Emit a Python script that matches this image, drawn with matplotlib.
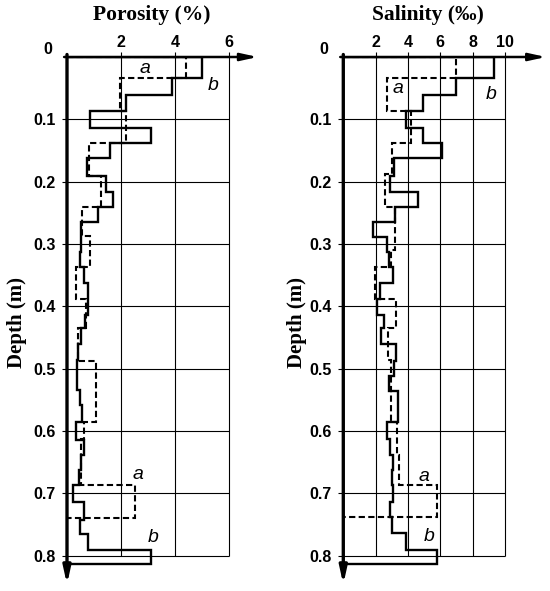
import numpy as np
import matplotlib.pyplot as plt

plt.rcParams['font.family'] = ['Liberation Sans', 'DejaVu Sans']

# layer boundaries (m) and values
por_b_edges = [0, 0.034, 0.061, 0.086, 0.114, 0.138, 0.162, 0.191, 0.216, 0.240, 0.264,
               0.288, 0.312, 0.337, 0.362, 0.386, 0.413, 0.434, 0.461, 0.486, 0.51, 0.534,
               0.558, 0.586, 0.614, 0.638, 0.662, 0.687, 0.714, 0.742, 0.765, 0.79, 0.813]
por_b = [5.0, 3.9, 2.2, 0.86, 3.1, 1.6, 0.75, 1.45, 1.72, 1.13, 0.52, 0.5, 0.48, 0.62, 0.76,
         0.78, 0.68, 0.53, 0.40, 0.38, 0.38, 0.47, 0.55, 0.35, 0.62, 0.5, 0.45, 0.22, 0.62,
         0.47, 0.77, 3.1]
por_a_edges = [0, 0.034, 0.086, 0.138, 0.191, 0.24, 0.287, 0.336, 0.388, 0.434, 0.488,
               0.585, 0.612, 0.687, 0.74]
por_a = [4.4, 1.97, 2.2, 0.82, 1.25, 0.55, 0.86, 0.35, 0.72, 0.39, 1.06, 0.62, 0.5, 2.5]

sal_b_edges = [0, 0.034, 0.061, 0.086, 0.114, 0.138, 0.162, 0.191, 0.216, 0.240, 0.264,
               0.288, 0.312, 0.337, 0.362, 0.388, 0.413, 0.434, 0.461, 0.488, 0.512, 0.536,
               0.586, 0.612, 0.638, 0.662, 0.687, 0.713, 0.738, 0.764, 0.79, 0.813]
sal_b = [9.3, 7.0, 4.95, 3.86, 4.9, 6.1, 3.15, 2.9, 4.6, 3.18, 1.85, 2.73, 2.8, 3.08, 2.26,
         2.1, 2.5, 2.36, 3.28, 3.14, 2.8, 3.37, 2.72, 2.89, 3.1, 3.0, 3.1, 2.9, 3.03, 3.88, 5.77]
sal_a_edges = [0, 0.034, 0.086, 0.138, 0.187, 0.24, 0.31, 0.336, 0.388, 0.434, 0.486,
               0.586, 0.638, 0.687, 0.738]
sal_a = [7.0, 2.72, 4.2, 3.0, 2.6, 3.22, 2.97, 1.96, 3.24, 2.77, 2.97, 3.3, 3.44, 5.81]

depth_ticks = [0.1, 0.2, 0.3, 0.4, 0.5, 0.6, 0.7, 0.8]
depth_labels = ['0.1', '0.2', '0.3', '0.4', '0.5', '0.6', '0.7', '0.8']
por_ticks = [2, 4, 6]
sal_ticks = [2, 4, 6, 8, 10]

serif = ['Liberation Serif', 'DejaVu Serif']

fig = plt.figure(figsize=(5.5, 5.91), dpi=100)


def panel(pos, xmax, ticks, title, a_edges, a_vals, b_edges, b_vals, lab_pos, ylab_x, zero_x):
    ax = fig.add_axes(pos)
    ax.set_xlim(0, xmax)
    ax.set_ylim(0.85, 0)
    ax.patch.set_visible(False)
    for s in ax.spines.values():
        s.set_visible(False)
    grid_max = ticks[-1]
    # grid
    ax.vlines(ticks, 0, 0.8, color='k', lw=0.8)
    ax.hlines(depth_ticks, 0, grid_max, color='k', lw=0.8)
    # ticks
    ax.xaxis.tick_top()
    ax.set_xticks(ticks)
    ax.set_xticklabels([str(t) for t in ticks], fontsize=11.5, fontweight='bold')
    ax.set_yticks(depth_ticks)
    ax.set_yticklabels(depth_labels, fontsize=11.5, fontweight='bold')
    ax.tick_params(axis='x', length=3.6, width=0.8, pad=1.5)
    ax.tick_params(axis='y', length=3.6, width=0.8, pad=4.5)
    ax.text(zero_x, -0.012, '0', fontsize=11.5, fontweight='bold', ha='right', va='center')
    # profiles
    ax.stairs(b_vals, b_edges, orientation='horizontal', baseline=0, color='k', lw=1.7, zorder=3)
    ax.stairs(a_vals, a_edges, orientation='horizontal', baseline=0, color='k', lw=1.5,
              ls=(0, (3, 1.6)), zorder=3)
    # axes with arrows
    ax.annotate('', xy=(xmax * 0.995, 0), xytext=(-0.015 * xmax, 0),
                arrowprops=dict(arrowstyle='-|>,head_length=1.0,head_width=0.22', lw=1.8,
                                color='k', shrinkA=0, shrinkB=0), annotation_clip=False, zorder=4)
    ax.annotate('', xy=(0, 0.846), xytext=(0, -0.004),
                arrowprops=dict(arrowstyle='-|>,head_length=1.0,head_width=0.22', lw=2.4,
                                color='k', shrinkA=0, shrinkB=0), annotation_clip=False, zorder=4)
    for t, (x, y) in zip(['a', 'b', 'a', 'b'], lab_pos):
        ax.text(x, y, t, fontsize=14, style='italic', ha='center', va='center')
    ax.text(ticks[-1] * 0.525, -0.068, title, fontsize=15.5, fontweight='bold',
            family=serif, ha='center', va='center')
    ax.text(ylab_x, 0.425, 'Depth (m)', fontsize=15, fontweight='bold', family=serif,
            rotation=90, ha='center', va='center')
    return ax


panel([67 / 550, 1 - 587 / 591, 191.7 / 550, 530 / 591], 7.1, por_ticks, 'Porosity (%)',
      por_a_edges, por_a, por_b_edges, por_b,
      [(2.89, 0.018), (5.41, 0.046), (2.63, 0.67), (3.19, 0.771)], -1.85, -0.55)
panel([343.3 / 550, 1 - 587 / 591, 203.7 / 550, 530 / 591], 12.6, sal_ticks, 'Salinity (‰)',
      sal_a_edges, sal_a, sal_b_edges, sal_b,
      [(3.36, 0.051), (9.13, 0.060), (4.99, 0.673), (5.3, 0.769)], -2.86, -0.9)

plt.savefig('out.png', dpi=100)
